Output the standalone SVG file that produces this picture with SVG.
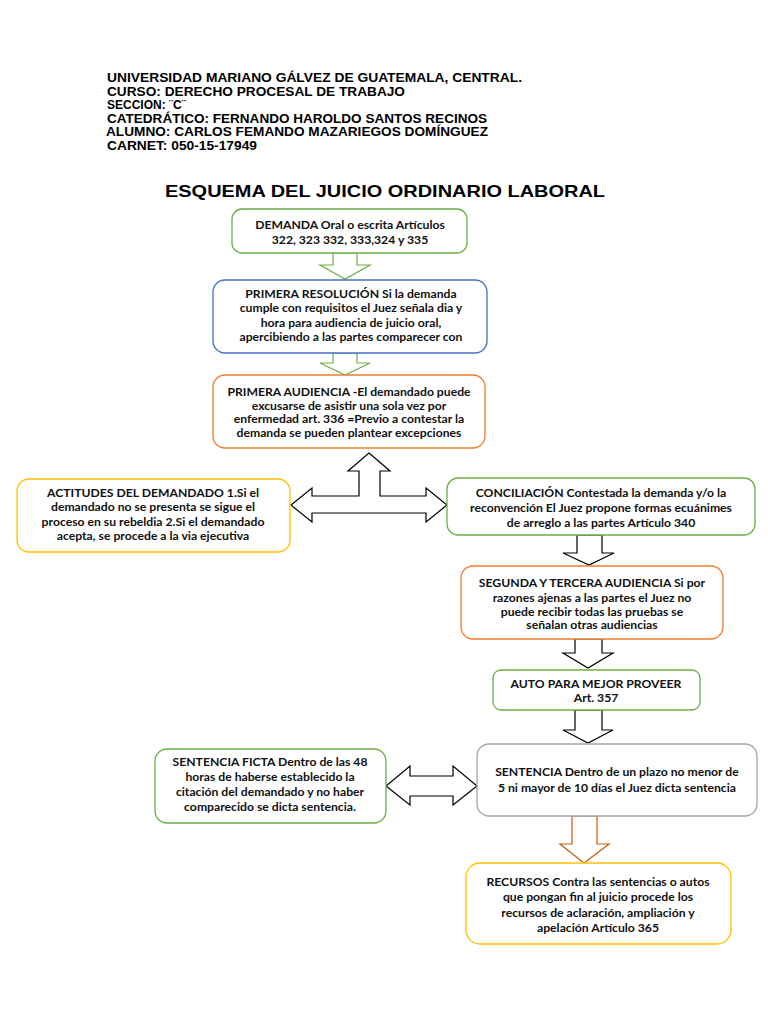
<svg xmlns="http://www.w3.org/2000/svg" width="768" height="1024" viewBox="0 0 768 1024">
<style>
.hdr{font-family:"Liberation Sans",Arial,sans-serif;font-weight:bold;font-size:12px;fill:#000}
.ttl{font-family:"Liberation Sans",Arial,sans-serif;font-weight:bold;font-size:16.5px;fill:#000}
.box{fill:#fff;stroke-width:1.3}
.g{stroke:#70AD47}.b{stroke:#4472C4}.o{stroke:#ED7D31}.y{stroke:#FFC000}.gr{stroke:#A5A5A5}
.t{font-family:Lato,"Open Sans",sans-serif;font-weight:bold;font-size:12.2px;fill:#111;text-anchor:middle}
.ar{fill:#fff;stroke:#000;stroke-width:1.2;stroke-linejoin:miter}
.arg{fill:#fff;stroke:#70AD47;stroke-width:1.2}
.aro{fill:#fff;stroke:#C55A11;stroke-width:1.2}
</style>
<rect width="768" height="1024" fill="#fff"/>
<g id="header">
<text class="hdr" x="107" y="82" textLength="415" lengthAdjust="spacingAndGlyphs">UNIVERSIDAD MARIANO GÁLVEZ DE GUATEMALA, CENTRAL.</text>
<text class="hdr" x="107" y="95.5" textLength="298" lengthAdjust="spacingAndGlyphs">CURSO: DERECHO PROCESAL DE TRABAJO</text>
<text class="hdr" x="107" y="109">SECCION: ¨C¨</text>
<text class="hdr" x="107" y="122.5" textLength="380" lengthAdjust="spacingAndGlyphs">CATEDRÁTICO: FERNANDO HAROLDO SANTOS RECINOS</text>
<text class="hdr" x="106" y="136" textLength="382" lengthAdjust="spacingAndGlyphs">ALUMNO: CARLOS FEMANDO MAZARIEGOS DOMÍNGUEZ</text>
<text class="hdr" x="107" y="149.5" textLength="150" lengthAdjust="spacingAndGlyphs">CARNET: 050-15-17949</text>
</g>
<text class="ttl" x="165" y="197" textLength="440" lengthAdjust="spacingAndGlyphs">ESQUEMA DEL JUICIO ORDINARIO LABORAL</text>
<g id="connectors">
<polygon class="arg" points="333,253 357,253 357,265 370,265 345,279 320,265 333,265"/>
<polygon class="arg" points="333,353 357,353 357,363 370,363 345,375 320,363 333,363"/>
<polygon class="ar" points="369,453 390,471 380,471 380,496 426,496 426,488 447,505 426,522 426,513 312,513 312,522 291,505 312,488 312,496 359,496 359,471 348,471"/>
<polygon class="ar" points="577,535 602,535 602,553 614,553 589,565 563,553 577,553"/>
<polygon class="ar" points="575,639 602,639 602,653 613,653 588,668 563,653 575,653"/>
<polygon class="ar" points="575,710 602,710 602,730 613,730 588,743 563,730 575,730"/>
<polygon class="ar" points="386,786 410,766 410,776 453,776 453,766 477,786 453,805 453,796 410,796 410,805"/>
<polygon class="aro" points="572,816 597,816 597,844 609,844 584,863 560,844 572,844"/>
</g>
<g id="demanda">
<rect class="box g" x="232" y="209" width="235" height="44" rx="10"/>
<text class="t" x="350" y="229">DEMANDA Oral o escrita Artículos</text>
<text class="t" x="350" y="244">322, 323 332, 333,324 y 335</text>
</g>
<g id="primera-resolucion">
<rect class="box b" x="213" y="280" width="274" height="73" rx="12"/>
<text class="t" x="351" y="298">PRIMERA RESOLUCIÓN Si la demanda</text>
<text class="t" x="351" y="312">cumple con requisitos el Juez señala dia y</text>
<text class="t" x="351" y="327">hora para audiencia de juicio oral,</text>
<text class="t" x="351" y="341">apercibiendo a las partes comparecer con</text>
</g>
<g id="primera-audiencia">
<rect class="box o" x="213" y="375" width="272" height="73" rx="12"/>
<text class="t" x="349" y="396">PRIMERA AUDIENCIA -El demandado puede</text>
<text class="t" x="349" y="410">excusarse de asistir una sola vez por</text>
<text class="t" x="349" y="423">enfermedad art. 336 =Previo a contestar la</text>
<text class="t" x="349" y="437">demanda se pueden plantear excepciones</text>
</g>
<g id="actitudes">
<rect class="box y" x="17" y="479" width="273" height="73" rx="12"/>
<text class="t" x="153" y="497">ACTITUDES DEL DEMANDADO 1.Si el</text>
<text class="t" x="153" y="511">demandado no se presenta se sigue el</text>
<text class="t" x="153" y="526">proceso en su rebeldia 2.Si el demandado</text>
<text class="t" x="153" y="540">acepta, se procede a la via ejecutiva</text>
</g>
<g id="conciliacion">
<rect class="box g" x="447" y="478" width="308" height="57" rx="11"/>
<text class="t" x="601" y="497">CONCILIACIÓN Contestada la demanda y/o la</text>
<text class="t" x="601" y="512">reconvención El Juez propone formas ecuánimes</text>
<text class="t" x="601" y="527">de arreglo a las partes Artículo 340</text>
</g>
<g id="segunda-tercera">
<rect class="box o" x="461" y="566" width="262" height="73" rx="12"/>
<text class="t" x="592" y="587">SEGUNDA Y TERCERA AUDIENCIA Si por</text>
<text class="t" x="592" y="602">razones ajenas a las partes el Juez no</text>
<text class="t" x="592" y="616">puede recibir todas las pruebas se</text>
<text class="t" x="592" y="629">señalan otras audiencias</text>
</g>
<g id="auto">
<rect class="box g" x="493" y="670" width="207" height="40" rx="8"/>
<text class="t" x="596" y="688">AUTO PARA MEJOR PROVEER</text>
<text class="t" x="596" y="702">Art. 357</text>
</g>
<g id="sentencia">
<rect class="box gr" x="477" y="744" width="280" height="72" rx="12"/>
<text class="t" x="617" y="776">SENTENCIA Dentro de un plazo no menor de</text>
<text class="t" x="617" y="792">5 ni mayor de 10 días el Juez dicta sentencia</text>
</g>
<g id="sentencia-ficta">
<rect class="box g" x="155" y="749" width="231" height="74" rx="12"/>
<text class="t" x="270" y="766">SENTENCIA FICTA Dentro de las 48</text>
<text class="t" x="270" y="781">horas de haberse establecido la</text>
<text class="t" x="270" y="796">citación del demandado y no haber</text>
<text class="t" x="270" y="811">comparecido se dicta sentencia.</text>
</g>
<g id="recursos">
<rect class="box y" x="466" y="863" width="265" height="81" rx="14"/>
<text class="t" x="598" y="886">RECURSOS Contra las sentencias o autos</text>
<text class="t" x="598" y="901">que pongan fin al juicio procede los</text>
<text class="t" x="598" y="917">recursos de aclaración, ampliación y</text>
<text class="t" x="598" y="932">apelación Artículo 365</text>
</g>
</svg>
